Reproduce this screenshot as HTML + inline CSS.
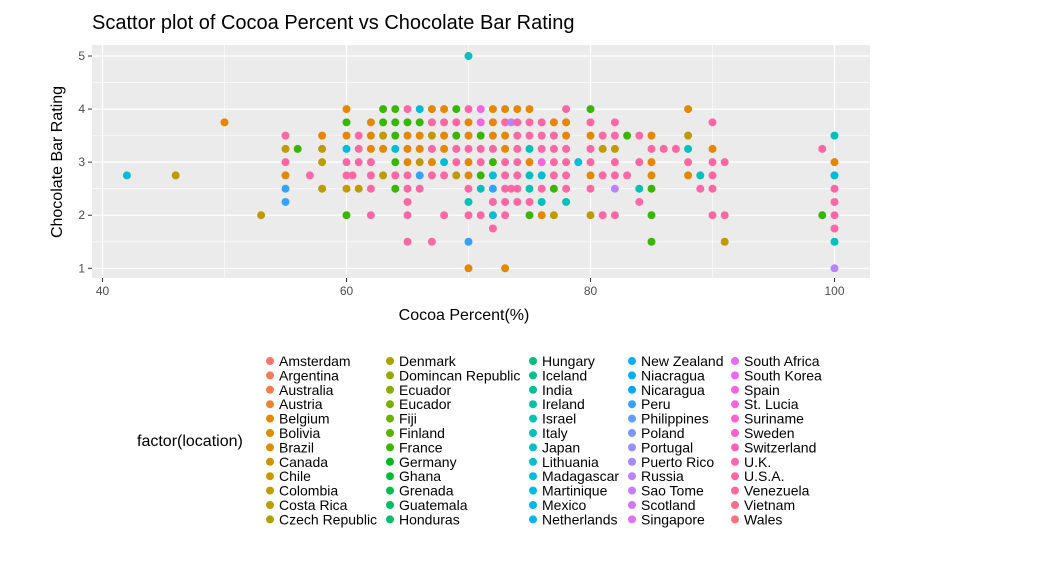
<!DOCTYPE html>
<html><head><meta charset="utf-8"><style>
html,body{margin:0;padding:0;background:#fff;}
svg{display:block;font-family:"Liberation Sans",sans-serif;}
</style></head><body>
<svg id="chart" width="1040" height="578" viewBox="0 0 1040 578">
<rect width="1040" height="578" fill="#fff"/>
<text x="92" y="29" font-size="20" fill="#000">Scattor plot of Cocoa Percent vs Chocolate Bar Rating</text>
<rect x="92" y="45" width="778" height="233" fill="#ebebeb"/>
<g id="grid"></g>
<g id="axes"></g>
<g id="points"></g>
<text x="464" y="320" font-size="16" text-anchor="middle" fill="#000">Cocoa Percent(%)</text>
<text transform="translate(62,162) rotate(-90)" font-size="16" text-anchor="middle" fill="#000">Chocolate Bar Rating</text>
<text x="137" y="446" font-size="16" fill="#000">factor(location)</text>
<g id="legend"></g>
</svg>
<script>
const locations=["Amsterdam","Argentina","Australia","Austria","Belgium","Bolivia","Brazil","Canada","Chile","Colombia","Costa Rica","Czech Republic","Denmark","Domincan Republic","Ecuador","Eucador","Fiji","Finland","France","Germany","Ghana","Grenada","Guatemala","Honduras","Hungary","Iceland","India","Ireland","Israel","Italy","Japan","Lithuania","Madagascar","Martinique","Mexico","Netherlands","New Zealand","Niacragua","Nicaragua","Peru","Philippines","Poland","Portugal","Puerto Rico","Russia","Sao Tome","Scotland","Singapore","South Africa","South Korea","Spain","St. Lucia","Suriname","Sweden","Switzerland","U.K.","U.S.A.","Venezuela","Vietnam","Wales"];
const xTicks=[40,60,80,100];
const yTicks=[1,2,3,4,5];
const codeMap={p:"U.S.A.",o:"Belgium",y:"Canada",l:"Colombia",g:"France",t:"Italy",c:"Madagascar",b:"Peru",m:"Spain",v:"Russia"};
const cocoa=[42,46,50,53,
55,55,55,55,55,55, 56, 57, 58,58,58,58,
60,60,60,60,60,60,60,60, 60.5, 61,61,61,61,
62,62,62,62,62,62,62, 63,63,63,63,63,
64,64,64,64,64,64,64,
65,65,65,65,65,65,65,65,65,65,
66,66,66,66,66,66,66,
67,67,67,67,67,67,67,
68,68,68,68,68,68,68,
69,69,69,69,69,69,
70,70,70,70,70,70,70,70,70,70,70,70,
71,71,71,71,71,71,71,71,
72,72,72,72,72,72,72,72,72,72,
73,73,73,73,73,73,73,73,73,73, 73.5,73.5,
74,74,74,74,74,74,74,74,
75,75,75,75,75,75,75,75,75,
76,76,76,76,76,76,76,76,
77,77,77,77,77,77,77,
78,78,78,78,78,78,78,78, 79,
80,80,80,80,80,80,80,80,
81,81,81,81,
82,82,82,82,82,82,82,
83,83, 84,84,84,84,
85,85,85,85,85,85,85, 86, 87,
88,88,88,88,88, 89,89,
90,90,90,90,90,90, 91,91,91, 99,99,
100,100,100,100,100,100,100,100,100];
const rating=[2.75,2.75,3.75,2,
3.5,3.25,3,2.75,2.5,2.25, 3.25, 2.75, 3.5,3.25,3,2.5,
4,3.75,3.5,3.25,3,2.75,2.5,2, 2.75, 3.5,3.25,3,2.5,
3.75,3.5,3.25,3,2.75,2.5,2, 4,3.75,3.5,3.25,2.75,
4,3.75,3.5,3.25,3,2.75,2.5,
4,3.75,3.5,3.25,3,2.75,2.5,2.25,2,1.5,
4,3.75,3.5,3.25,3,2.75,2.5,
4,3.75,3.5,3.25,3,2.75,1.5,
4,3.75,3.5,3.25,3,2.75,2,
4,3.75,3.5,3.25,3,2.75,
5,4,3.75,3.5,3.25,3,2.75,2.5,2.25,2,1.5,1,
4,3.75,3.5,3.25,3,2.75,2.5,2,
4,3.75,3.5,3.25,3,2.75,2.5,2.25,2,1.75,
4,3.75,3.5,3.25,3,2.75,2.5,2.25,2,1, 3.75,2.5,
4,3.75,3.5,3.25,3,2.75,2.5,2.25,
4,3.75,3.5,3.25,3,2.75,2.5,2.25,2,
3.75,3.5,3.25,3,2.75,2.5,2.25,2,
3.75,3.5,3.25,3,2.75,2.5,2,
4,3.75,3.5,3.25,3,2.75,2.5,2.25, 3,
4,3.75,3.5,3.25,3,2.75,2.5,2,
3.5,3.25,2.75,2,
3.75,3.5,3.25,3,2.75,2.5,2,
3.5,2.75, 3.5,3,2.5,2.25,
3.5,3.25,3,2.75,2.5,2,1.5, 3.25, 3.25,
4,3.5,3.25,3,2.75, 2.75,2.5,
3.75,3.25,3,2.75,2.5,2, 3,2,1.5, 3.25,2,
3.5,3,2.75,2.5,2.25,2,1.75,1.5,1];
const pointLocation=['c','l','o','l',
'p','l','p','o','b','b', 'g', 'p', 'o','l','l','l',
'o','g','o','c','p','p','l','g', 'p', 'p','p','p','l',
'o','o','o','p','p','p','p', 'g','g','l','o','l',
'g','g','g','c','g','p','g',
'p','g','o','o','o','p','p','p','p','p',
'c','g','o','o','l','b','p',
'o','p','l','p','o','p','p',
'o','p','o','o','c','p','p',
'g','p','g','p','p','l',
't','p','o','o','p','o','o','p','t','p','b','o',
'm','m','g','p','p','g','t','p',
'o','o','o','p','g','c','b','p','c','p',
'o','p','o','o','p','p','p','p','p','o', 'v','p',
'o','p','p','p','p','p','p','p',
'o','p','p','t','o','t','t','p','g',
'p','p','p','m','c','p','t','o',
'o','p','p','p','p','g','l',
'p','o','o','p','p','p','p','t', 'c',
'g','p','o','p','p','o','p','l',
'p','l','p','p',
'p','p','l','p','p','v','p',
'g','p', 'p','p','t','p',
'o','p','o','o','g','g','g', 'p', 'p',
'o','l','t','p','o', 't','p',
'p','o','p','p','p','p', 'p','p','l', 'p','g',
't','o','c','p','p','p','p','t','v'];
const svg=document.getElementById('chart');
const NS='http://www.w3.org/2000/svg';
function mk(tag,attrs,parent){const e=document.createElementNS(NS,tag);for(const k in attrs)e.setAttribute(k,attrs[k]);parent.appendChild(e);return e;}
function xs(v){return 102.5+(v-40)*12.2;}
function ys(v){return 268.3-(v-1)*53.07;}
function hcl(h){const L=65,C=100,hr=h*Math.PI/180;const u=C*Math.cos(hr),v=C*Math.sin(hr);
const Y=100*Math.pow((L+16)/116,3);const un=0.19784,vn=0.46834;const up=u/(13*L)+un,vp=v/(13*L)+vn;
const X=Y*9*up/(4*vp),Z=Y*(12-3*up-20*vp)/(4*vp);const x=X/100,y=Y/100,z=Z/100;
let r=3.2406*x-1.5372*y-0.4986*z,g=-0.9689*x+1.8758*y+0.0415*z,b=0.0557*x-0.2040*y+1.0570*z;
const gm=c=>{c=c<=0.0031308?12.92*c:1.055*Math.pow(c,1/2.4)-0.055;return Math.round(Math.max(0,Math.min(1,c))*255);};
return 'rgb('+gm(r)+','+gm(g)+','+gm(b)+')';}
const n=locations.length;
function colorOf(name){const i=locations.indexOf(name);return hcl(15+360*i/n);}
const grid=document.getElementById('grid');
[50,70,90].forEach(v=>{const l=mk('line',{x1:xs(v),x2:xs(v),y1:45,y2:278,stroke:'#fff','stroke-width':0.6},grid);

});
[1.5,2.5,3.5,4.5].forEach(v=>{const l=mk('line',{x1:92,x2:870,y1:ys(v),y2:ys(v),stroke:'#fff','stroke-width':0.6},grid);

});
xTicks.forEach(v=>{const l=mk('line',{x1:xs(v),x2:xs(v),y1:45,y2:278,stroke:'#fff','stroke-width':1.2},grid);

});
yTicks.forEach(v=>{const l=mk('line',{x1:92,x2:870,y1:ys(v),y2:ys(v),stroke:'#fff','stroke-width':1.2},grid);

});
const axes=document.getElementById('axes');
xTicks.forEach(v=>{const t=mk('line',{x1:xs(v),x2:xs(v),y1:278,y2:282,stroke:'#333','stroke-width':1},axes);


const tx=mk('text',{x:xs(v),y:295,'font-size':12,'text-anchor':'middle',fill:'#4d4d4d'},axes);tx.textContent=v;

});
yTicks.forEach(v=>{const t=mk('line',{x1:88,x2:92,y1:ys(v),y2:ys(v),stroke:'#333','stroke-width':1},axes);


const tx=mk('text',{x:85,y:ys(v)+4,'font-size':12,'text-anchor':'end',fill:'#4d4d4d'},axes);tx.textContent=v;

});
const pts=document.getElementById('points');
for(let i=0;i<cocoa.length;i++){const c=mk('circle',{cx:xs(cocoa[i]),cy:ys(rating[i]),r:4,fill:colorOf(codeMap[pointLocation[i]]||"U.S.A.")},pts);

}
const leg=document.getElementById('legend');
const colX=[270,390,533,632,735];
locations.forEach((name,i)=>{const col=Math.floor(i/12),row=i%12;const y=361+row*14.4;
const g=mk('g',{},leg);


mk('circle',{cx:colX[col],cy:y,r:4,fill:hcl(15+360*i/n)},g);
const t=mk('text',{x:colX[col]+9,y:y+5,'font-size':14,fill:'#000'},g);t.textContent=name;});
</script>
</body></html>
